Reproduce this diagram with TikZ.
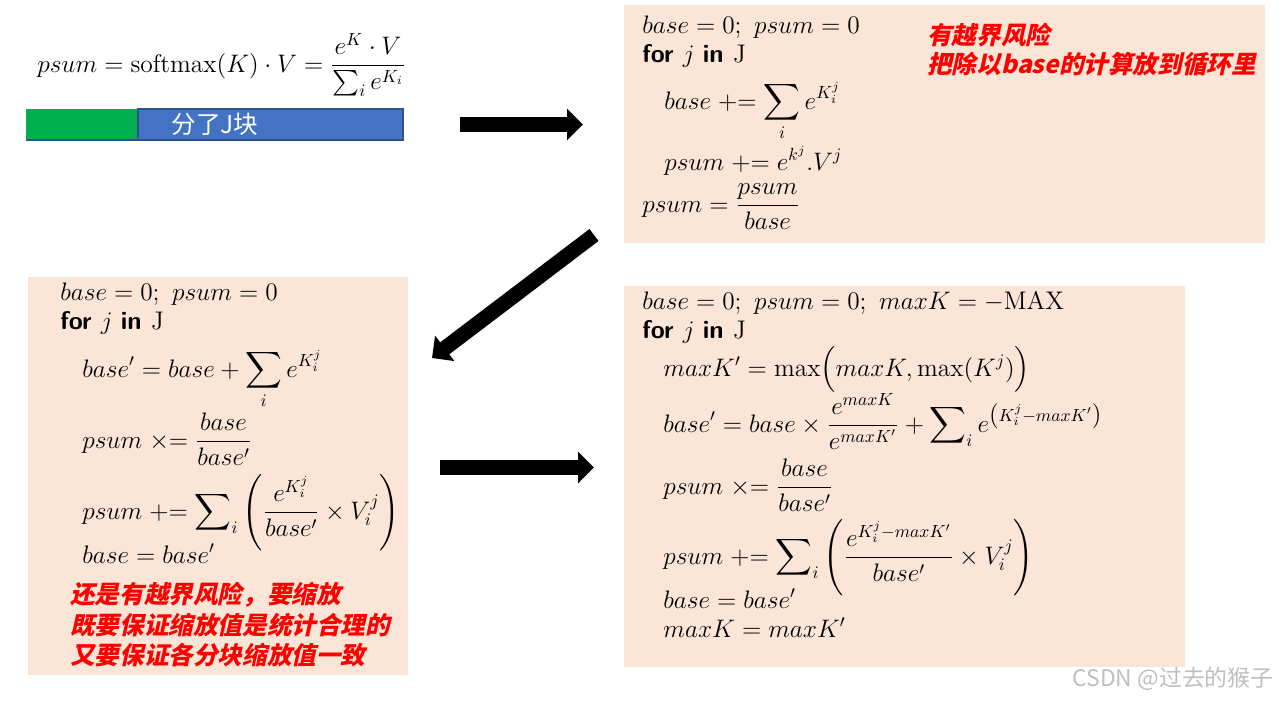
\documentclass[tikz,border=0pt]{standalone}
\usepackage{amsmath,amssymb}
\usepackage{fontspec}
\usepackage{xcolor}
\newfontfamily\cjkfont{Noto Sans CJK SC}
\newfontfamily\notefont{Noto Sans CJK SC}[FakeSlant=0.22]
\usetikzlibrary{arrows.meta}
\definecolor{peach}{HTML}{FBE5D6}
\definecolor{okgreen}{HTML}{00B050}
\definecolor{okblue}{HTML}{4472C4}
\definecolor{okedge}{HTML}{2F528F}

\begin{document}
\begin{tikzpicture}[
  x=0.02cm, y=-0.02cm,
  panel/.style={fill=peach},
  eq/.style={anchor=base west, inner sep=0pt, font=\fontsize{14.5}{17}\selectfont},
  kw/.style={anchor=base west, inner sep=0pt, font=\fontsize{14.5}{17}\selectfont\sffamily\bfseries},
  note/.style={anchor=west, inner sep=0pt, text=red, font=\notefont\bfseries\fontsize{14}{16}\selectfont},
  flow/.style={line width=0.3cm, -{Triangle[length=0.32cm, width=0.62cm]}}
]
\useasboundingbox (0,0) rectangle (1284,700);

% panels
\fill[panel] (624,5) rectangle (1265,243);
\fill[panel] (28,277) rectangle (408,675);
\fill[panel] (624,286) rectangle (1185,667);

% plain softmax and the split bar
\node[eq] (plain) at (37,72) {$\displaystyle psum=\mathrm{softmax}(K)\cdot V=\frac{e^K\cdot V}{\sum_i e^{K_i}}$};
\fill[okgreen] (26,109) rectangle (138,140);
\filldraw[fill=okblue, draw=okedge, line width=0.6pt] (138,109) rectangle (403,140);
\draw[okedge, line width=0.6pt] (26,140) -- (138,140);
\node[text=white, font=\cjkfont\fontsize{14}{16}\selectfont] (split) at (215,124) {分了J块};

% loop with division inside
\node[eq] (a1) at (642,33) {$base=0;\ psum=0$};
\node[kw] (a2) at (642,62) {for \normalfont$j$ \sffamily\bfseries in \normalfont$\mathrm{J}$};
\node[eq] (a3) at (664,109) {$\displaystyle base\mathrel{+}=\sum_i e^{K_i^j}$};
\node[eq] (a4) at (664,170) {$psum\mathrel{+}=e^{k^j}.V^j$};
\node[eq] (a5) at (642,212) {$\displaystyle psum=\frac{psum}{base}$};
\node[note] (n1) at (927,35) {有越界风险};
\node[note] (n2) at (927,64) {把除以base的计算放到循环里};

% rescaled loop
\node[eq] (b1) at (60,300) {$base=0;\ psum=0$};
\node[kw] (b2) at (60,329) {for \normalfont$j$ \sffamily\bfseries in \normalfont$\mathrm{J}$};
\node[eq] (b3) at (82,377) {$\displaystyle base'=base+\sum_i e^{K_i^j}$};
\node[eq] (b4) at (82,448) {$\displaystyle psum\mathrel{\times}=\frac{base}{base'}$};
\node[eq] (b5) at (82,519) {$\displaystyle psum\mathrel{+}=\sum\nolimits_i\left(\frac{e^{K_i^j}}{base'}\times V_i^j\right)$};
\node[eq] (b6) at (82,563) {$base=base'$};
\node[note] (n3) at (70,595) {还是有越界风险，要缩放};
\node[note] (n4) at (70,625) {既要保证缩放值是统计合理的};
\node[note] (n5) at (70,655) {又要保证各分块缩放值一致};

% online max loop
\node[eq] (c1) at (642,309) {$base=0;\ psum=0;\ maxK=-\mathrm{MAX}$};
\node[kw] (c2) at (642,338) {for \normalfont$j$ \sffamily\bfseries in \normalfont$\mathrm{J}$};
\node[eq] (c3) at (663,376) {$maxK'=\max\Bigl(maxK,\max(K^j)\Bigr)$};
\node[eq] (c4) at (663,432) {$\displaystyle base'=base\times\frac{e^{maxK}}{e^{maxK'}}+\sum\nolimits_i e^{\left(K_i^j-maxK'\right)}$};
\node[eq] (c5) at (663,494) {$\displaystyle psum\mathrel{\times}=\frac{base}{base'}$};
\node[eq] (c6) at (663,564) {$\displaystyle psum\mathrel{+}=\sum\nolimits_i\left(\frac{e^{K_i^j-maxK'}}{base'}\times V_i^j\right)$};
\node[eq] (c7) at (663,608) {$base=base'$};
\node[eq] (c8) at (663,637) {$maxK=maxK'$};

% arrows
\coordinate (f1s) at (460,124.5);
\coordinate (f1e) at (583,124.5);
\coordinate (f2s) at (594,235);
\coordinate (f2e) at (432,358);
\coordinate (f3s) at (440,467.5);
\coordinate (f3e) at (594,467.5);
\draw[flow] (f1s) -- (f1e);
\draw[flow] (f2s) -- (f2e);
\draw[flow] (f3s) -- (f3e);

\node[text=black!25, font=\cjkfont\fontsize{13}{15}\selectfont] (mark) at (1173,679) {CSDN @过去的猴子};
\end{tikzpicture}
\end{document}
